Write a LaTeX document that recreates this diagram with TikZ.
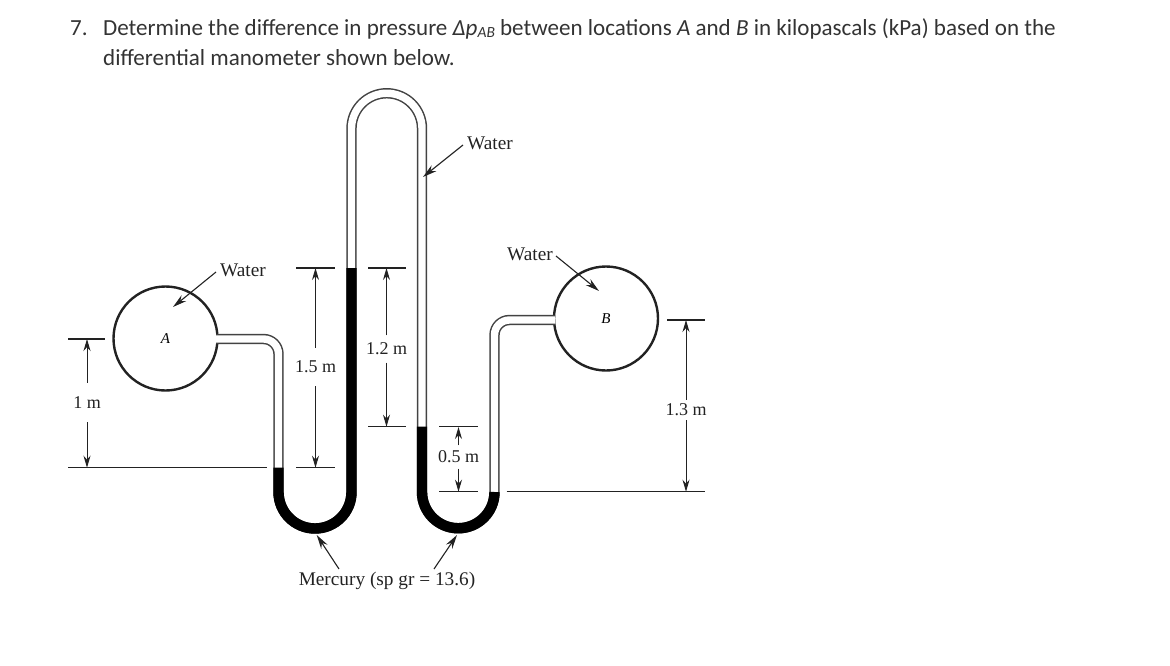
\documentclass[tikz,border=0pt]{standalone}
\usepackage{fontspec}
\setmainfont{Liberation Serif}
\newfontfamily\bodyfont{Carlito}
\usetikzlibrary{arrows.meta}
\definecolor{ink}{HTML}{222222}
\definecolor{bodyink}{HTML}{333333}
\tikzset{
  x=1pt,y=-1pt,
  tank/.style={draw=ink,circle,line width=2.4pt,minimum size=104pt,inner sep=0pt,font=\fontsize{15}{15}\selectfont\itshape},
  wall/.style={draw=ink!85,line width=10.4pt,line join=round},
  bore/.style={draw=white,line width=7.4pt},
  mercury/.style={draw=black,line width=10.4pt},
  tick/.style={draw=ink,line width=1.1pt},
  dimarrow/.style={draw=ink,line width=1pt,-{Stealth[length=12pt,width=7pt]}},
  callout/.style={draw=ink,line width=1.1pt,-{Stealth[length=14pt,width=7.5pt]}},
  lab/.style={text=ink,inner sep=0pt,font=\fontsize{19.3}{20}\selectfont},
  dimlab/.style={text=ink,inner sep=0pt,font=\fontsize{18}{20}\selectfont,fill=white,inner xsep=1pt},
  body/.style={anchor=base west,inner sep=0pt,text=bodyink,font=\bodyfont\fontsize{23.05}{24}\selectfont}
}
\begin{document}
\begin{tikzpicture}
\useasboundingbox (0,0) rectangle (1170,666);
% question text
\node[body] (num) at (70,35.7) {7.};
\node[body] (line1) at (103,35.7) {Determine the difference in pressure \textit{Δp}{\raisebox{-1.5pt}{\fontsize{15.5}{15}\selectfont\textit{AB}}} between locations \textit{A} and \textit{B} in kilopascals (kPa) based on the};
\node[body] (line2) at (103,65.7) {differential manometer shown below.};
% tanks
\node[tank] (A) at (165.5,338.5) {A};
\node[tank] (B) at (606,318.5) {B};
% tube: left tank to right tank
\coordinate (tubeA) at (216,339);
\coordinate (tubeB) at (555,320);
\def\tubepath{(tubeA) -- (263.5,339) arc[start angle=-90,end angle=0,radius=15] -- (278.5,492)
  arc[start angle=180,end angle=0,radius=36.5] -- (351.5,128.5)
  arc[start angle=180,end angle=360,radius=35.25] -- (422,492)
  arc[start angle=180,end angle=0,radius=36.25] -- (494.5,335)
  arc[start angle=180,end angle=270,radius=15] -- (tubeB)}
\draw[wall] \tubepath;
\draw[bore] \tubepath;
% mercury columns
\draw[mercury] (278.5,467.7) -- (278.5,492) arc[start angle=180,end angle=0,radius=36.5] -- (351.5,268);
\draw[mercury] (422,426.7) -- (422,492) arc[start angle=180,end angle=0,radius=36.25];
% reference lines
\coordinate (t1a) at (68,339);      \coordinate (t1b) at (105,339);
\coordinate (b1a) at (68,467.7);    \coordinate (b1b) at (267,467.7);
\coordinate (t15a) at (296,268);    \coordinate (t15b) at (335,268);
\coordinate (b15a) at (296,467.7);  \coordinate (b15b) at (335,467.7);
\coordinate (t12a) at (368,268);    \coordinate (t12b) at (406,268);
\coordinate (b12a) at (368,426.7);  \coordinate (b12b) at (406,426.7);
\coordinate (t05a) at (439,426.7);  \coordinate (t05b) at (477.5,426.7);
\coordinate (b05a) at (439,491.7);  \coordinate (b05b) at (477.5,491.7);
\coordinate (t13a) at (667,320);    \coordinate (t13b) at (705,320);
\coordinate (b13a) at (506.7,491.7);\coordinate (b13b) at (705,491.7);
\foreach \p in {1,15,12,05,13}{
  \draw[tick] (t\p a) -- (t\p b);
  \draw[tick] (b\p a) -- (b\p b);
}
% dimension labels
\node[dimlab,minimum height=39pt] (d1) at (87,402.5) {1 m};
\node[dimlab,minimum height=38pt] (d15) at (315.5,367) {1.5 m};
\node[dimlab,minimum height=27pt] (d12) at (386.5,349) {1.2 m};
\node[dimlab,minimum height=23pt] (d05) at (458.5,457) {0.5 m};
\node[dimlab,minimum height=20pt] (d13) at (686,410) {1.3 m};
% dimension arrows
\coordinate (a1t) at (87,339);     \coordinate (a1b) at (87,467.7);
\coordinate (a15t) at (315.5,268); \coordinate (a15b) at (315.5,467.7);
\coordinate (a12t) at (386.5,268); \coordinate (a12b) at (386.5,426.7);
\coordinate (a05t) at (458.5,427); \coordinate (a05b) at (458.5,491.7);
\coordinate (a13t) at (686,320);   \coordinate (a13b) at (686,491.7);
\foreach \p in {1,15,12,05,13}{
  \draw[dimarrow] (d\p) -- (a\p t);
  \draw[dimarrow] (d\p) -- (a\p b);
}
% fluid labels
\node[lab] (wTop) at (490,143) {Water};
\node[lab] (wA) at (243,270) {Water};
\node[lab] (wB) at (530,254) {Water};
\node[lab] (hg) at (387,581) {Mercury (sp gr = 13.6)};
\coordinate (wTopTip) at (423,177);
\coordinate (wATip) at (173,307);
\coordinate (wBTip) at (599,291);
\coordinate (hgL) at (316.7,535);
\coordinate (hgR) at (457,535);
\coordinate (wTopS) at (463,145);
\coordinate (wAS) at (216,272);
\coordinate (wBS) at (556,256);
\coordinate (hgLS) at (339,569);
\coordinate (hgRS) at (434,569);
\draw[callout] (wTopS) -- (wTopTip);
\draw[callout] (wAS) -- (wATip);
\draw[callout] (wBS) -- (wBTip);
\draw[callout] (hgLS) -- (hgL);
\draw[callout] (hgRS) -- (hgR);
\end{tikzpicture}
\end{document}
